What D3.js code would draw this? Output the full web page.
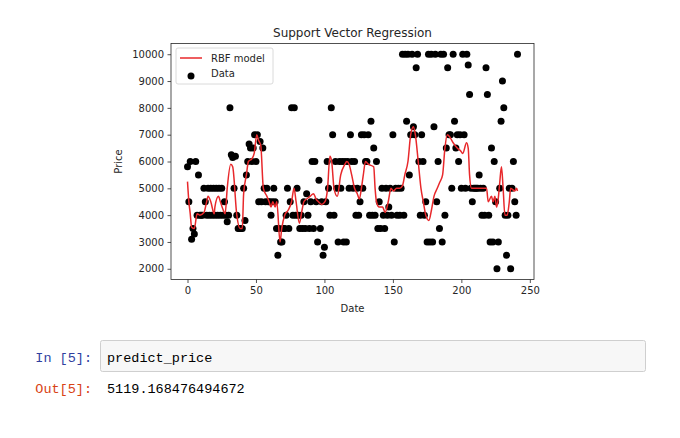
<!DOCTYPE html>
<html>
<head>
<meta charset="utf-8">
<script src="https://cdn.jsdelivr.net/npm/d3@7"></script>
<style>
  body { margin: 0; background: #fff; }
  svg text { font-family: "DejaVu Sans", sans-serif; fill: #262626; }
  .mono { font-family: "Liberation Mono", "DejaVu Sans Mono", monospace; }
</style>
</head>
<body>
<div id="chart"></div>
<script>
// prices, one per date index (0..241)
var price = [
  5800,4500,6000,3100,3500,3300,6000,4000,5500,4000,
  4000,4000,5000,4500,4000,5000,4000,5000,4000,5000,
  4000,5000,4000,5000,4000,5000,4000,4500,4000,3750,
  4000,8000,6250,6150,5000,6200,4000,3500,3500,3500,
  3500,5000,3800,5500,6000,6650,6500,6000,6500,7000,
  6000,7000,4500,6750,4500,6500,5000,4500,5000,4500,
  4500,4000,4500,5000,4500,3500,2500,3500,3000,3000,
  3500,3500,4000,5000,3500,4500,8000,4000,8000,4000,
  5000,4000,3500,4000,3500,4500,3500,4800,4000,3500,
  4500,6000,3500,6000,4500,3000,5300,3500,4500,2500,
  2800,4500,6000,5000,4000,8000,7000,4000,6000,5000,
  3000,6000,5000,6000,3000,6000,3000,6000,5000,7000,
  6000,5000,6000,4000,5000,4000,4500,7000,5000,7000,
  6000,6000,7000,4000,7500,4000,6500,4000,6000,3500,
  4500,3500,5000,4000,3500,5000,4000,4300,5000,4000,
  7000,3000,5000,4000,5000,4000,5000,10000,4000,10000,
  7500,10000,5500,7000,10000,7300,7000,9500,10000,6000,
  4000,7000,6000,4000,4500,3000,10000,3000,10000,3000,
  7300,10000,4500,6000,3500,10000,3000,10000,4000,6500,
  9500,7000,7000,5000,10000,7500,6500,7000,6000,7000,
  5000,10000,7000,5000,10000,9600,8500,5000,4500,5000,
  5000,5000,5000,5500,5000,4000,5000,4000,9500,8500,
  4000,3000,6500,3000,6000,4500,2000,3000,5000,7500,
  9000,8000,4000,2500,4000,5000,2000,5000,6000,4500,
  4000,10000
];

// RBF model curve
var modelDate = [0,1,2,3,5,7,9,12,14,15,17,19.5,20,22.6,24,26,27.5,29,31.6,33,36,38.4,40,41,43,44.5,47,48.7,50.6,51.8,53.5,55.4,58,59.6,61,62.3,64,65.2,67.6,68.8,71,73.7,76,77.8,79.3,81.7,83.7,85,87,89.5,92,93.9,95.6,98,100.4,102.3,104,105.3,107,109.4,111.9,115,116.3,118,119.9,122,124,125.5,127,128.4,130,132,136,137,138,140,142.5,144.3,146.6,148.6,150.3,152.7,155,157,158.7,161,163,165,166.4,168.5,170.5,172.2,174,176.3,178.2,180,182.4,184,186.3,188,189.7,191.7,194,197,199.4,201,203.8,205,206,207.4,213.5,218.4,219.6,222,223.2,224.5,225.7,226.9,228,229.3,230.5,231.8,233.5,235,236,239,240.3,241];
var modelPrice = [5250,4500,4050,3550,3500,4050,4000,4100,4500,4700,4500,4050,4300,4700,4500,4200,4050,5000,5900,5800,4000,3500,3500,4800,5500,6000,6100,6300,7000,6800,6600,5000,4700,4500,4300,4500,4300,4500,3000,3500,4000,4200,4500,5000,4500,3700,4200,4500,4600,4700,4800,4600,4500,4400,4500,5000,6200,6000,5000,4700,5500,5900,6000,5900,5500,5000,4800,4600,5000,5500,6000,5900,5800,5000,4500,4300,4300,4100,4500,5000,4900,5000,5000,5100,5500,6000,7000,7300,7000,6000,5000,4500,4000,3800,4200,4700,5000,5200,5500,6500,7000,6900,6700,6500,6400,6300,6700,6500,5500,5000,5000,5000,4500,4700,4500,4700,4300,4600,5200,5800,5000,4000,4000,4500,5000,4900,5000,4900];

var xTicks = [0, 50, 100, 150, 200, 250];
var yTicks = [2000, 3000, 4000, 5000, 6000, 7000, 8000, 9000, 10000];

var width = 680, height = 438;
var plotLeft = 171, plotRight = 534, plotTop = 43.5, plotBottom = 279.5;

var svg = d3.select("#chart").append("svg")
    .attr("width", width).attr("height", height);

var x = d3.scaleLinear().domain([-12.05, 253.05]).range([plotLeft, plotRight]);
var y = d3.scaleLinear().domain([1600, 10400]).range([plotBottom, plotTop]);

// axes
var xAxis = svg.append("g").attr("transform", "translate(0," + plotBottom + ")")
    .call(d3.axisBottom(x).tickValues(xTicks).tickFormat(d3.format("d")).tickSize(3.5).tickPadding(3.5));
var yAxis = svg.append("g").attr("transform", "translate(" + plotLeft + ",0)")
    .call(d3.axisLeft(y).tickValues(yTicks).tickFormat(d3.format("d")).tickSize(3.5).tickPadding(3.5));
[xAxis, yAxis].forEach(function(a) {
    a.select(".domain").remove();
    a.selectAll("line").attr("stroke", "#262626").attr("stroke-width", 0.8);
    a.selectAll("text").attr("font-size", 10).attr("font-family", "DejaVu Sans").style("fill", "#262626");
});

// dots
svg.append("g").selectAll("circle").data(price).enter().append("circle")
    .attr("cx", function(d, i) { return x(i); })
    .attr("cy", function(d) { return y(d); })
    .attr("r", 3.5)
    .attr("fill", "#000");

// model line
var line = d3.line()
    .x(function(d, i) { return x(modelDate[i]); })
    .y(function(d) { return y(d); })
    .curve(d3.curveMonotoneX);
svg.append("path").datum(modelPrice)
    .attr("d", line)
    .attr("fill", "none")
    .attr("stroke", "#e8282b")
    .attr("stroke-width", 1.5)
    .attr("stroke-linejoin", "round");

// frame
svg.append("rect")
    .attr("x", plotLeft).attr("y", plotTop)
    .attr("width", plotRight - plotLeft).attr("height", plotBottom - plotTop)
    .attr("fill", "none").attr("stroke", "#262626").attr("stroke-width", 0.8);

// titles
svg.append("text").attr("x", (plotLeft + plotRight) / 2).attr("y", 37)
    .attr("text-anchor", "middle").attr("font-size", 12).text("Support Vector Regression");
svg.append("text").attr("x", (plotLeft + plotRight) / 2).attr("y", 312)
    .attr("text-anchor", "middle").attr("font-size", 10).text("Date");
svg.append("text").attr("transform", "translate(122," + ((plotTop + plotBottom) / 2) + ") rotate(-90)")
    .attr("text-anchor", "middle").attr("font-size", 10).text("Price");

// legend
var lg = svg.append("g");
lg.append("rect").attr("x", 176).attr("y", 48).attr("width", 97).attr("height", 36)
    .attr("rx", 2).attr("fill", "#fff").attr("fill-opacity", 0.85)
    .attr("stroke", "#d0d0d0").attr("stroke-width", 0.8);
lg.append("line").attr("x1", 180).attr("x2", 202).attr("y1", 58).attr("y2", 58)
    .attr("stroke", "#e8282b").attr("stroke-width", 1.5);
lg.append("circle").attr("cx", 191).attr("cy", 76).attr("r", 3.5).attr("fill", "#000");
lg.append("text").attr("x", 211).attr("y", 61.5).attr("font-size", 10).text("RBF model");
lg.append("text").attr("x", 211).attr("y", 77).attr("font-size", 10).text("Data");

// notebook cell below
svg.append("rect").attr("x", 100.5).attr("y", 340.5).attr("width", 545).attr("height", 31)
    .attr("fill", "#f7f7f7").attr("stroke", "#cfcfcf").attr("stroke-width", 1).attr("rx", 2);
svg.append("text").attr("class", "mono").attr("x", 92).attr("y", 362)
    .attr("text-anchor", "end").attr("font-size", 13.5).style("fill", "#303f9f").text("In [5]:");
svg.append("text").attr("class", "mono").attr("x", 107).attr("y", 362)
    .attr("font-size", 13.5).style("fill", "#000").text("predict_price");
svg.append("text").attr("class", "mono").attr("x", 92).attr("y", 393)
    .attr("text-anchor", "end").attr("font-size", 13.5).style("fill", "#d84315").text("Out[5]:");
svg.append("text").attr("class", "mono").attr("x", 107).attr("y", 393)
    .attr("font-size", 13.5).style("fill", "#000").text("5119.168476494672");
</script>
</body>
</html>
